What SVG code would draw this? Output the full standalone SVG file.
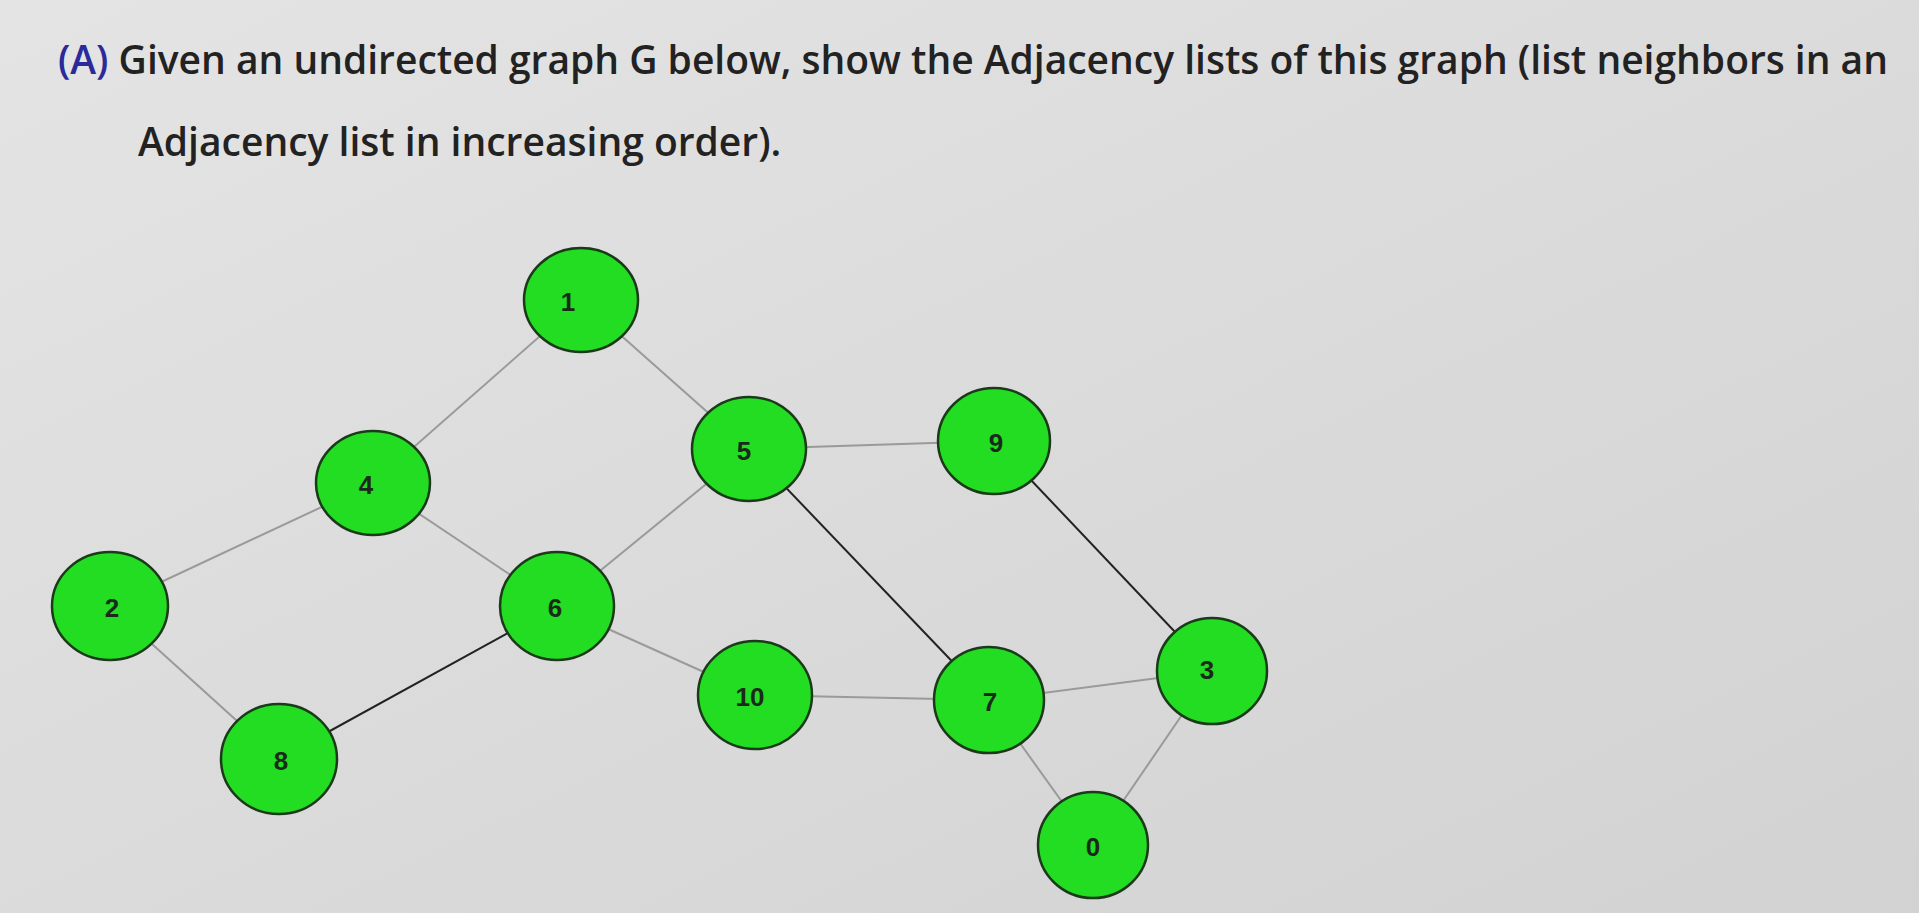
<svg xmlns="http://www.w3.org/2000/svg" width="1919" height="913" viewBox="0 0 1919 913">
<style>
.n ellipse{fill:#22dd22;stroke:#1a3a1a;stroke-width:2.5}
.n text{font-family:"Liberation Sans",Arial,sans-serif;font-size:26px;font-weight:bold;fill:#1a2a1a;text-anchor:middle;dominant-baseline:central}
.e line{stroke:#9a9a9a;stroke-width:2}
.e line.d{stroke:#222;stroke-width:2}
.t{font-family:"Open Sans",sans-serif;font-size:39px;font-weight:600;fill:#222}
</style>
<defs><linearGradient id="bg" x1="0" y1="0" x2="1" y2="1"><stop offset="0" stop-color="#e4e4e4"/><stop offset="1" stop-color="#d2d2d2"/></linearGradient></defs>
<rect width="1919" height="913" fill="url(#bg)"/>
<text class="t" x="58" y="74" textLength="1830" lengthAdjust="spacingAndGlyphs"><tspan fill="#2a2a9a">(A)</tspan> Given an undirected graph G below, show the Adjacency lists of this graph (list neighbors in an</text>
<text class="t" x="138" y="156">Adjacency list in increasing order).</text>
<g class="e">
<line x1="581" y1="300" x2="373" y2="483"/>
<line x1="581" y1="300" x2="749" y2="449"/>
<line x1="373" y1="483" x2="110" y2="606"/>
<line x1="373" y1="483" x2="557" y2="606"/>
<line x1="110" y1="606" x2="279" y2="759"/>
<line class="d" x1="279" y1="759" x2="557" y2="606"/>
<line x1="557" y1="606" x2="749" y2="449"/>
<line x1="557" y1="606" x2="755" y2="695"/>
<line x1="749" y1="449" x2="994" y2="441"/>
<line class="d" x1="749" y1="449" x2="989" y2="700"/>
<line class="d" x1="994" y1="441" x2="1212" y2="671"/>
<line x1="755" y1="695" x2="989" y2="700"/>
<line x1="989" y1="700" x2="1212" y2="671"/>
<line x1="989" y1="700" x2="1093" y2="845"/>
<line x1="1212" y1="671" x2="1093" y2="845"/>
</g>
<g id="n1" class="n"><ellipse cx="581" cy="300" rx="57" ry="52"/><text x="568" y="302">1</text></g>
<g id="n4" class="n"><ellipse cx="373" cy="483" rx="57" ry="52"/><text x="366" y="485">4</text></g>
<g id="n2" class="n"><ellipse cx="110" cy="606" rx="58" ry="54"/><text x="112" y="608">2</text></g>
<g id="n8" class="n"><ellipse cx="279" cy="759" rx="58" ry="55"/><text x="281" y="761">8</text></g>
<g id="n6" class="n"><ellipse cx="557" cy="606" rx="57" ry="54"/><text x="555" y="608">6</text></g>
<g id="n5" class="n"><ellipse cx="749" cy="449" rx="57" ry="52"/><text x="744" y="451">5</text></g>
<g id="n9" class="n"><ellipse cx="994" cy="441" rx="56" ry="53"/><text x="996" y="443">9</text></g>
<g id="n10" class="n"><ellipse cx="755" cy="695" rx="57" ry="54"/><text x="750" y="697">10</text></g>
<g id="n7" class="n"><ellipse cx="989" cy="700" rx="55" ry="53"/><text x="990" y="702">7</text></g>
<g id="n3" class="n"><ellipse cx="1212" cy="671" rx="55" ry="53"/><text x="1207" y="670">3</text></g>
<g id="n0" class="n"><ellipse cx="1093" cy="845" rx="55" ry="53"/><text x="1093" y="847">0</text></g>
</svg>
